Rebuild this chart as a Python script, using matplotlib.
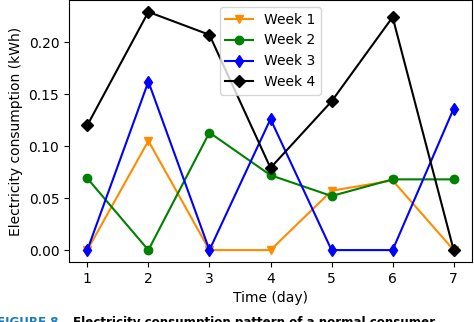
import numpy as np
import matplotlib.pyplot as plt

days = [1, 2, 3, 4, 5, 6, 7]
week1 = [0.0, 0.105, 0.0, 0.0, 0.057, 0.067, 0.0]
week2 = [0.069, 0.0, 0.113, 0.072, 0.052, 0.068, 0.068]
week3 = [0.0, 0.162, 0.0, 0.126, 0.0, 0.0, 0.136]
week4 = [0.120, 0.229, 0.207, 0.079, 0.143, 0.224, 0.0]

fig = plt.figure(figsize=(4.74, 3.22), dpi=100)
ax = fig.add_axes([69 / 474, 60 / 322, 403 / 474, 262 / 322])

ax.plot(days, week1, marker='v', color='darkorange', label="Week 1")
ax.plot(days, week2, marker='o', color='green', label="Week 2")
ax.plot(days, week3, marker='d', color='blue', label="Week 3")
ax.plot(days, week4, marker='D', color='black', label="Week 4")

ax.set_xticks(days)
ax.set_yticks([0.0, 0.05, 0.10, 0.15, 0.20])
ax.set_xlabel("Time (day)")
ax.set_ylabel("Electricity consumption (kWh)")
ax.legend(loc='upper center')

# caption cut off at the bottom, like the source image
cap_font = ['Liberation Sans Narrow', 'DejaVu Sans']
fig.text(-0.006, 0.019, "FIGURE 8.", color='#1a7ac0', fontweight='bold',
         fontsize=8.6, family=cap_font, va='top', ha='left')
fig.text(0.154, 0.019, "Electricity consumption pattern of a normal consumer.",
         color='black', fontweight='bold', fontsize=8.6, family=cap_font,
         va='top', ha='left')

fig.savefig("out.png", dpi=100)
